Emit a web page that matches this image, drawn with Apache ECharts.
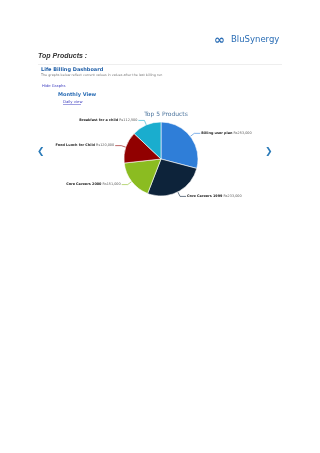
<!DOCTYPE html>
<html>
<head>
<meta charset="utf-8">
<script src="https://cdn.jsdelivr.net/npm/echarts@6/dist/echarts.min.js"></script>
<style>
  html, body { margin: 0; padding: 0; background: #fff; }
  #chart { width: 320px; height: 453px; }
</style>
</head>
<body>
<div id="chart"></div>
<script>
// Top 5 products (Rs)
const products = [
  "Billing user plan",
  "Core Careers 1999",
  "Core Careers 2000",
  "Food Lunch for Child",
  "Breakfast for a child",
];
const revenue = [253000, 233000, 151000, 120000, 112500];
const colors = ["#2f7ed8", "#0d233a", "#8bbc21", "#910000", "#1aadce"];

const chart = echarts.init(document.getElementById("chart"));

const fmt = (v) => "Rs" + v.toLocaleString("en-US");

const option = {
  animation: false,
  color: colors,
  title: {
    text: "Top 5 Products",
    left: 161,
    top: 106,
    textAlign: "center",
    textStyle: { fontSize: 6, fontWeight: "normal", color: "#4d759e", fontFamily: "DejaVu Sans" },
  },
  graphic: [
    // logo
    {
      type: "text",
      left: 214,
      top: 34,
      style: { text: "\u221E", fontSize: 13, fontWeight: "bold", fill: "#2a6db5", fontFamily: "DejaVu Sans" },
    },
    {
      type: "text",
      left: 231,
      top: 35.5,
      style: { text: "BluSynergy", fontSize: 8.5, fill: "#2a6db5", fontFamily: "DejaVu Sans" },
    },
    {
      type: "text",
      left: 38,
      top: 53,
      style: { text: "Top Products :", fontSize: 7, fontWeight: "bold", fontStyle: "italic", fill: "#333", fontFamily: "Liberation Sans" },
    },
    {
      type: "line",
      shape: { x1: 38, y1: 64.5, x2: 282, y2: 64.5 },
      style: { stroke: "#eee", lineWidth: 1 },
    },
    {
      type: "text",
      left: 41,
      top: 67.5,
      style: { text: "Life Billing Dashboard", fontSize: 5, fontWeight: "bold", fill: "#1f5fa8", fontFamily: "DejaVu Sans" },
    },
    {
      type: "text",
      left: 41,
      top: 73.5,
      style: { text: "The graphs below reflect current values in values after the last billing run", fontSize: 3.3, fill: "#777", fontFamily: "DejaVu Sans" },
    },
    {
      type: "text",
      left: 42,
      top: 84,
      style: { text: "Hide Graphs", fontSize: 3.8, fill: "#4040c0", fontFamily: "DejaVu Sans" },
    },
    {
      type: "text",
      left: 58,
      top: 92.5,
      style: { text: "Monthly View", fontSize: 5, fontWeight: "bold", fill: "#2a6db5", fontFamily: "DejaVu Sans" },
    },
    {
      type: "text",
      left: 63,
      top: 100,
      style: { text: "Daily view", fontSize: 3.8, fill: "#4040c0", fontFamily: "DejaVu Sans" },
    },
    {
      type: "line",
      shape: { x1: 63, y1: 104.5, x2: 81, y2: 104.5 },
      style: { stroke: "#4040c0", lineWidth: 0.5 },
    },
    // carousel arrows
    {
      type: "text",
      left: 37,
      top: 147,
      style: { text: "\u276E", fontSize: 9, fill: "#2a7ab8", fontFamily: "DejaVu Sans" },
    },
    {
      type: "text",
      left: 265,
      top: 147,
      style: { text: "\u276F", fontSize: 9, fill: "#2a7ab8", fontFamily: "DejaVu Sans" },
    },
  ],
  series: [
    {
      type: "pie",
      center: [161, 159],
      radius: 37,
      startAngle: 90,
      clockwise: true,
      itemStyle: { borderColor: "#fff", borderWidth: 0.6 },
      label: {
        formatter: (p) => "{b|" + p.name + "}{v| " + fmt(p.value) + "}",
        fontSize: 3.4,
        rich: {
          b: { fontSize: 3.4, fontWeight: "bold", color: "#222", fontFamily: "DejaVu Sans" },
          v: { fontSize: 3.4, color: "#555", fontFamily: "DejaVu Sans" },
        },
        distanceToLabelLine: 1,
      },
      labelLine: { length: 5, length2: 6, lineStyle: { width: 0.6 } },
      data: products.map((name, i) => ({ name, value: revenue[i] })),
    },
  ],
};

chart.setOption(option);
</script>
</body>
</html>
